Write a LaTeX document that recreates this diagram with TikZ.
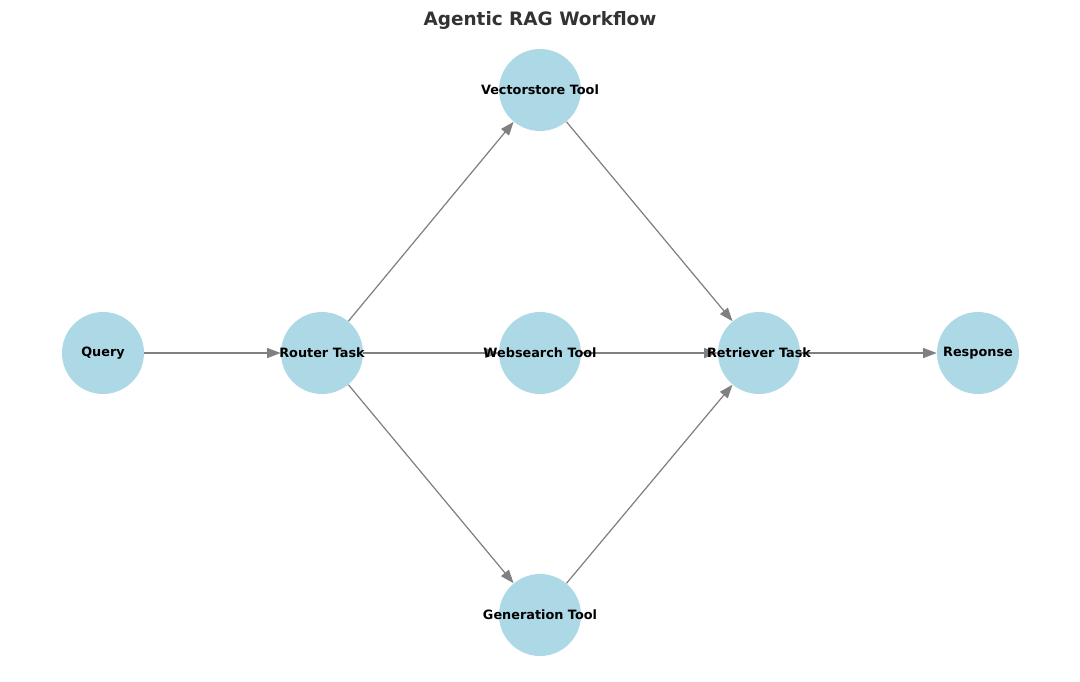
\documentclass[tikz,border=0pt]{standalone}
\usepackage{fontspec}
\setmainfont{DejaVu Sans}
\usetikzlibrary{arrows.meta}
\definecolor{nodeblue}{HTML}{ADD8E6}
\definecolor{edgegray}{HTML}{808080}
\definecolor{titlegray}{HTML}{333333}
\begin{document}
\begin{tikzpicture}[x=0.02cm,y=-0.02cm,
  vert/.style={circle,fill=nodeblue,minimum size=1.64cm,inner sep=0pt},
  lbl/.style={font=\fontsize{7.3}{9}\selectfont\bfseries,text=black},
  edge/.style={draw=edgegray,line width=0.7pt,-{Triangle[length=0.27cm,width=0.2cm]}}]
\useasboundingbox (0,0) rectangle (1080,681);
\node[font=\fontsize{10.5}{13}\selectfont\bfseries,text=titlegray] (title) at (540,20) {Agentic RAG Workflow};
\node[vert] (q) at (103,353) {};
\node[vert] (r) at (322,353) {};
\node[vert] (v) at (540,90) {};
\node[vert] (w) at (540,353) {};
\node[vert] (t) at (759,353) {};
\node[vert] (s) at (978,353) {};
\node[vert] (g) at (540,615) {};
\draw[edge] (q) -- (r);
\draw[edge] (r) -- (v);
\draw[edge] (r) -- (w);
\draw[edge] (r) -- (g);
\draw[edge] (v) -- (t);
\draw[edge] (w) -- (t);
\draw[edge] (g) -- (t);
\draw[edge] (t) -- (s);
\node[lbl] (lq) at (q) {Query};
\node[lbl] (lr) at (r) {Router Task};
\node[lbl] (lv) at (v) {Vectorstore Tool};
\node[lbl] (lw) at (w) {Websearch Tool};
\node[lbl] (lt) at (t) {Retriever Task};
\node[lbl] (ls) at (s) {Response};
\node[lbl] (lg) at (g) {Generation Tool};
\end{tikzpicture}
\end{document}
